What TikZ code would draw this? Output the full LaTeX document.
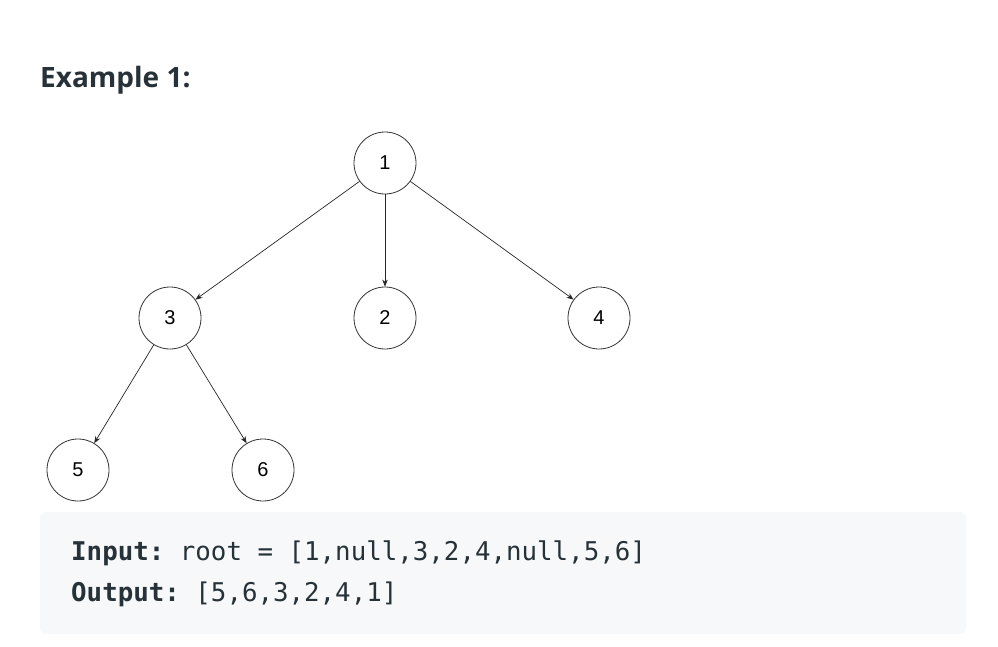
\documentclass[tikz,border=0pt]{standalone}
\usepackage{fontspec}
\setmainfont{Liberation Sans}
\setmonofont{DejaVu Sans Mono}
\newfontfamily\titlefont{Open Sans}
\usepackage{tikz}
\usepackage{color}
\usetikzlibrary{arrows.meta}
\definecolor{ink}{HTML}{263238}
\definecolor{codebg}{HTML}{F7F8FA}

\begin{document}
\begin{tikzpicture}[x=1pt,y=-1pt,
	vert/.style={circle,draw=black!80,line width=0.8pt,minimum size=62pt,inner sep=0pt,font=\fontsize{20}{20}\selectfont},
	edge/.style={-{Stealth[length=7pt,width=5.5pt]},draw=black!85,line width=0.7pt},
	code/.style={anchor=base west,inner sep=0pt,text=ink,font=\ttfamily\fontsize{25.8}{26}\selectfont}]
	\useasboundingbox (0,0) rectangle (998,646);
	
	% title
	\node[anchor=base west,inner sep=0pt,text=ink,font=\titlefont\bfseries\fontsize{28}{28}\selectfont] (title) at (40,87) {Example 1:};
	
	% tree
	\node[vert] (N1) at (385,163) {1};
	\node[vert] (N3) at (170,318) {3};
	\node[vert] (N2) at (385,318) {2};
	\node[vert] (N4) at (599,318) {4};
	\node[vert] (N5) at (78,470) {5};
	\node[vert] (N6) at (263,470) {6};
	\foreach \c in {3,2,4} {
		\draw[edge] (N1) -- (N\c);
	}
	\draw[edge] (N3) -- (N5);
	\draw[edge] (N3) -- (N6);
	
	% input / output
	\fill[codebg,rounded corners=6pt] (40,512) rectangle (966,634);
	\node[code] (input) at (71,560) {\textbf{Input:} root = [1,null,3,2,4,null,5,6]};
	\node[code] (output) at (71,601) {\textbf{Output:} [5,6,3,2,4,1]};
	
\end{tikzpicture}
\end{document}
